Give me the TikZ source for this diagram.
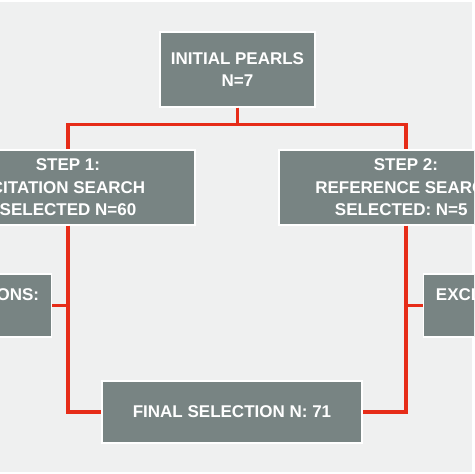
\documentclass[tikz,border=0pt]{standalone}
\usepackage{fontspec}
\setmainfont{Liberation Sans}
\usetikzlibrary{positioning,calc}
\definecolor{boxgray}{RGB}{120,132,131}
\definecolor{linkred}{RGB}{230,44,24}
\definecolor{paper}{RGB}{239,240,240}

\begin{document}
\begin{tikzpicture}[x=0.75pt, y=-0.75pt,
    box/.style={draw=white, line width=0.9pt, fill=boxgray, text=white, align=center,
        inner sep=0pt, font=\fontsize{12.75pt}{16.9pt}\selectfont\bfseries},
    link/.style={draw=linkred, line width=2.3pt}]
    \useasboundingbox (0,0) rectangle (474,474);
    \clip (0,0) rectangle (474,474);
    \fill[white] (0,0) rectangle (474,474);
    \fill[paper] (0,2) rectangle (472,472);

    \node[box, minimum width=116.25pt, minimum height=56.25pt] (pearls) at (237.5,69.5) {INITIAL PEARLS\\N=7};
    \node[box, minimum width=190.5pt, minimum height=56.25pt] (step1) at (68,187.5) {STEP 1:\\CITATION SEARCH\\SELECTED N=60};
    \node[box, minimum width=190.5pt, minimum height=56.25pt] (step2) at (406,187.5) {STEP 2:\\REFERENCE SEARCH\\SELECTED: N=5\phantom{0}};
    \node[box, minimum width=106pt, minimum height=47.25pt] (excl1) at (-19,305.5) {EXCLUSIONS:\\\phantom{N=0}};
    \node[box, minimum width=106pt, minimum height=47.25pt] (excl2) at (494,305.5) {EXCLUSIONS:\\\phantom{N=0}};
    \node[box, minimum width=195pt, minimum height=46.5pt] (final) at (232,412) {FINAL SELECTION N: 71};

    % branches from the pearls
    \draw[link] (pearls.south) -- ++(0,17) -| (step1.north);
    \draw[link] (pearls.south) -- ++(0,17) -| (step2.north);

    % down to the final selection
    \draw[link] (step1.south) |- (final.west);
    \draw[link] (step2.south) |- (final.east);

    % exclusions
    \draw[link] (excl1.east) -- (step1.south |- excl1.east);
    \draw[link] (excl2.west) -- (step2.south |- excl2.west);
\end{tikzpicture}
\end{document}
